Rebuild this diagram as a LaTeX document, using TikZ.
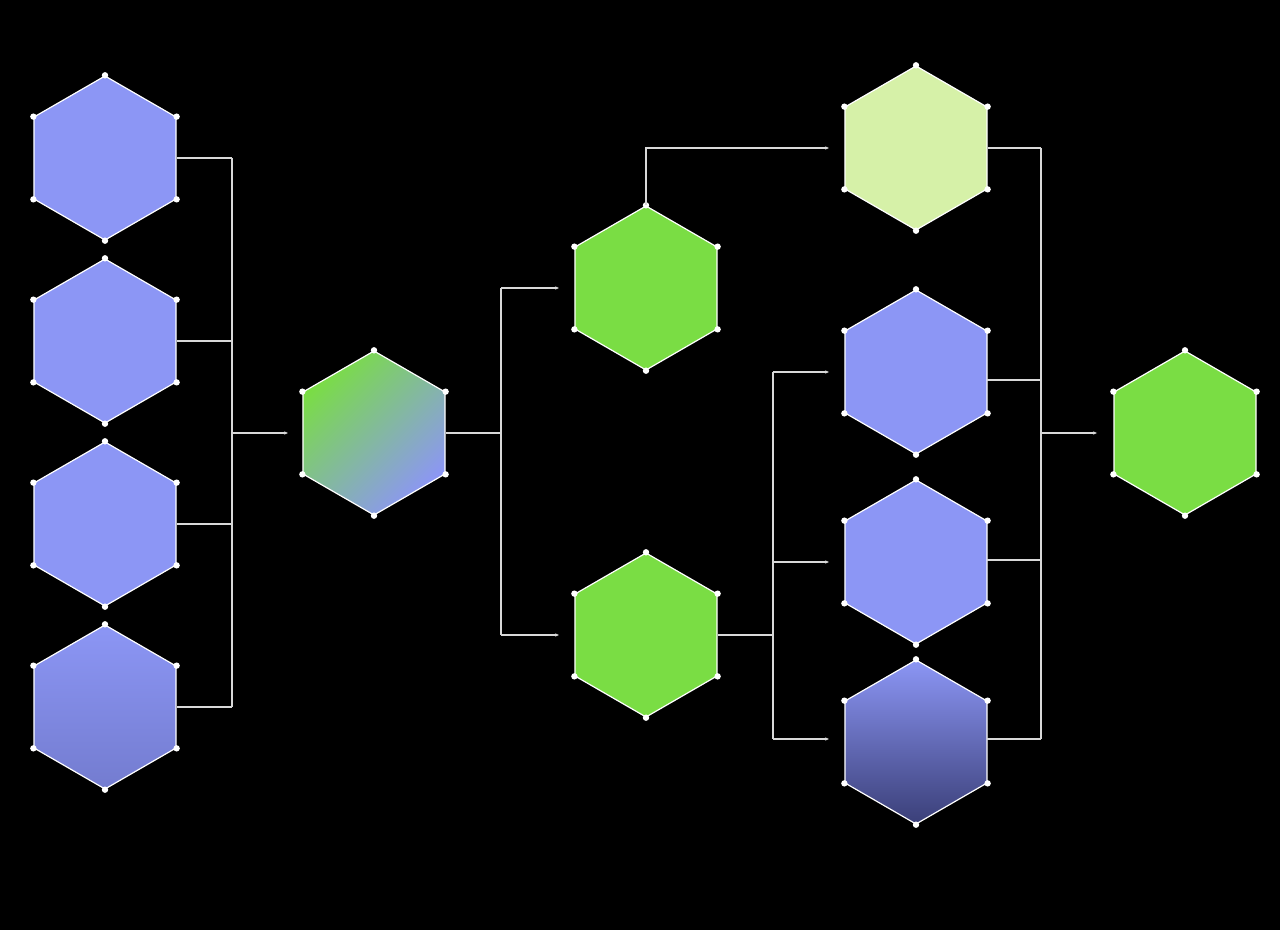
\documentclass[tikz,border=0pt]{standalone}
\usetikzlibrary{shapes.geometric,arrows.meta}
\definecolor{hblue}{HTML}{8C96F5}
\definecolor{hgreen}{HTML}{7ADD44}
\definecolor{hlight}{HTML}{D6F1A8}
\definecolor{hdark}{HTML}{3A3F78}
\definecolor{lin}{HTML}{D8D8D8}
\begin{document}
\begin{tikzpicture}[x=0.75pt,y=-0.75pt,
  hex/.style={regular polygon,regular polygon sides=6,shape border rotate=30,inner sep=0pt,minimum size=123pt,draw=white,line width=0.9pt},
  conn/.style={draw=lin,line width=0.8pt},
  arr/.style={conn,-{Stealth[length=3pt,width=2.5pt]}}]
\fill[black] (0,0) rectangle (1280,930);
\useasboundingbox (0,0) rectangle (1280,930);
\node[hex,fill=hblue] (a1) at (105,158) {};
\node[hex,fill=hblue] (a2) at (105,341) {};
\node[hex,fill=hblue] (a3) at (105,524) {};
\node[hex,top color=hblue,middle color=hblue,bottom color=hblue!70!hdark] (a4) at (105,707) {};
\node[hex,left color=hgreen,right color=hblue,shading angle=45] (m) at (374,433) {};
\node[hex,fill=hgreen] (g1) at (646,288) {};
\node[hex,fill=hgreen] (g2) at (646,635) {};
\node[hex,fill=hlight] (r1) at (916,148) {};
\node[hex,fill=hblue] (r2) at (916,372) {};
\node[hex,fill=hblue] (r3) at (916,562) {};
\node[hex,top color=hblue,middle color=hblue,bottom color=hdark] (r4) at (916,742) {};
\node[hex,fill=hgreen] (f) at (1185,433) {};
\foreach \n in {a1,a2,a3,a4,m,g1,g2,r1,r2,r3,r4,f}
  \foreach \c in {1,...,6} \fill[white] (\n.corner \c) circle (3.2);
% left group
\coordinate (j1) at (232,433);
\foreach \n in {a1,a2,a3,a4} \draw[conn] (\n.east) -- (\n.east -| j1);
\draw[conn] (a1.east -| j1) -- (a4.east -| j1);
\coordinate (t1) at (288,433);
\draw[arr] (j1) -- (t1);
% middle split
\coordinate (j2) at (501,433);
\draw[conn] (m.east) -- (j2);
\draw[conn] (501,288) -- (501,635);
\coordinate (t2) at (559,288); \coordinate (t3) at (559,635);
\draw[arr] (501,288) -- (t2);
\draw[arr] (501,635) -- (t3);
% top green
\coordinate (t4) at (829,148);
\draw[arr] (g1.corner 1) -- (646,148) -- (t4);
% bottom green split
\coordinate (j3) at (773,635);
\draw[conn] (g2.east) -- (j3);
\draw[conn] (773,372) -- (773,739);
\coordinate (t5) at (829,372); \coordinate (t6) at (829,562); \coordinate (t7) at (829,739);
\draw[arr] (773,372) -- (t5);
\draw[arr] (773,562) -- (t6);
\draw[arr] (773,739) -- (t7);
% right merge
\coordinate (j4) at (1041,433);
\draw[conn] (r1.east) -- (1041,148);
\draw[conn] (987,380) -- (1041,380);
\draw[conn] (987,560) -- (1041,560);
\draw[conn] (987,739) -- (1041,739);
\draw[conn] (1041,148) -- (1041,739);
\coordinate (t8) at (1097,433);
\draw[arr] (j4) -- (t8);
\end{tikzpicture}
\end{document}
